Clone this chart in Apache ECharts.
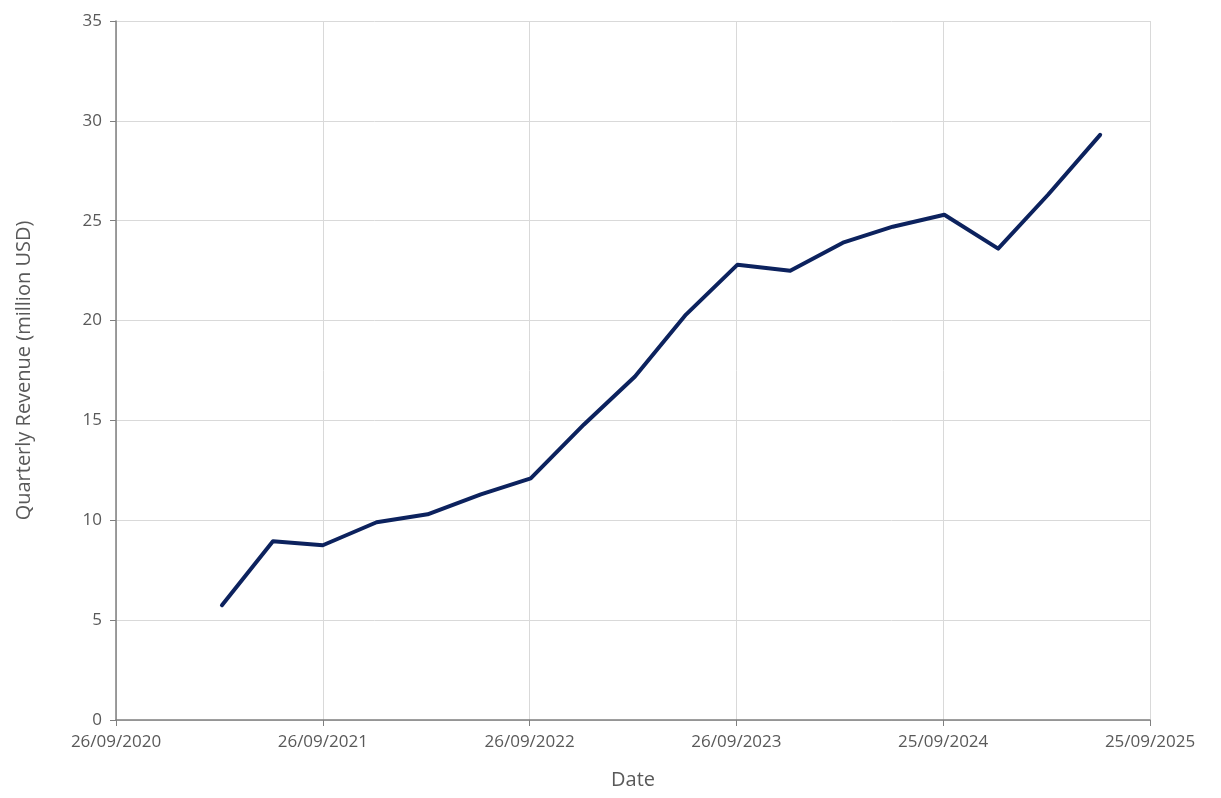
<!DOCTYPE html>
<html><head><meta charset="utf-8">
<script src="https://cdn.jsdelivr.net/npm/echarts@6/dist/echarts.min.js"></script>
<style>html,body{margin:0;padding:0;background:#fff}#c{width:1221px;height:798px}</style>
</head><body><div id="c"></div>
<script>
// days since 26/09/2020
var startDate = Date.UTC(2020, 8, 26);
var dayOffsets = [187, 277, 365, 460, 550, 644, 732, 826, 916, 1006, 1097, 1190, 1283, 1371, 1462, 1557, 1645, 1737];
var revenue = [5.75, 8.95, 8.75, 9.9, 10.3, 11.3, 12.1, 14.8, 17.2, 20.3, 22.8, 22.5, 23.9, 24.7, 25.3, 23.6, 26.3, 29.3];

function fmtDate(d) {
	var t = new Date(startDate + d * 86400000);
	var dd = ('0' + t.getUTCDate()).slice(-2), mm = ('0' + (t.getUTCMonth() + 1)).slice(-2);
	return dd + '/' + mm + '/' + t.getUTCFullYear();
}

var chart = echarts.init(document.getElementById('c'));
chart.setOption({
	animation: false,
	textStyle: {fontFamily: 'Open Sans', color: '#595959'},
	grid: {left: 116, right: 71, top: 21, bottom: 78},
	xAxis: {
		type: 'value', min: 0, max: 1825, interval: 365,
		name: 'Date', nameLocation: 'middle', nameGap: 50,
		nameTextStyle: {fontSize: 20, color: '#595959'},
		axisLine: {lineStyle: {color: '#7f7f7f', width: 1.5}},
		axisTick: {show: true, length: 6, lineStyle: {color: '#7f7f7f'}},
		axisLabel: {fontSize: 17, color: '#595959', margin: 14, formatter: fmtDate},
		splitLine: {show: true, lineStyle: {color: '#d9d9d9'}}
	},
	yAxis: {
		type: 'value', min: 0, max: 35, interval: 5,
		name: 'Quarterly Revenue (million USD)', nameLocation: 'middle', nameGap: 82,
		nameTextStyle: {fontSize: 20, color: '#595959'},
		axisLine: {show: true, lineStyle: {color: '#7f7f7f', width: 1.5}},
		axisTick: {show: true, length: 6, lineStyle: {color: '#7f7f7f'}},
		axisLabel: {fontSize: 17, color: '#595959', margin: 14},
		splitLine: {show: true, lineStyle: {color: '#d9d9d9'}}
	},
	series: [{
		type: 'line', symbol: 'none',
		data: dayOffsets.map(function (d, i) { return [d, revenue[i]]; }),
		lineStyle: {color: '#0c225e', width: 4, cap: 'round', join: 'round'}
	}]
});
</script></body></html>
